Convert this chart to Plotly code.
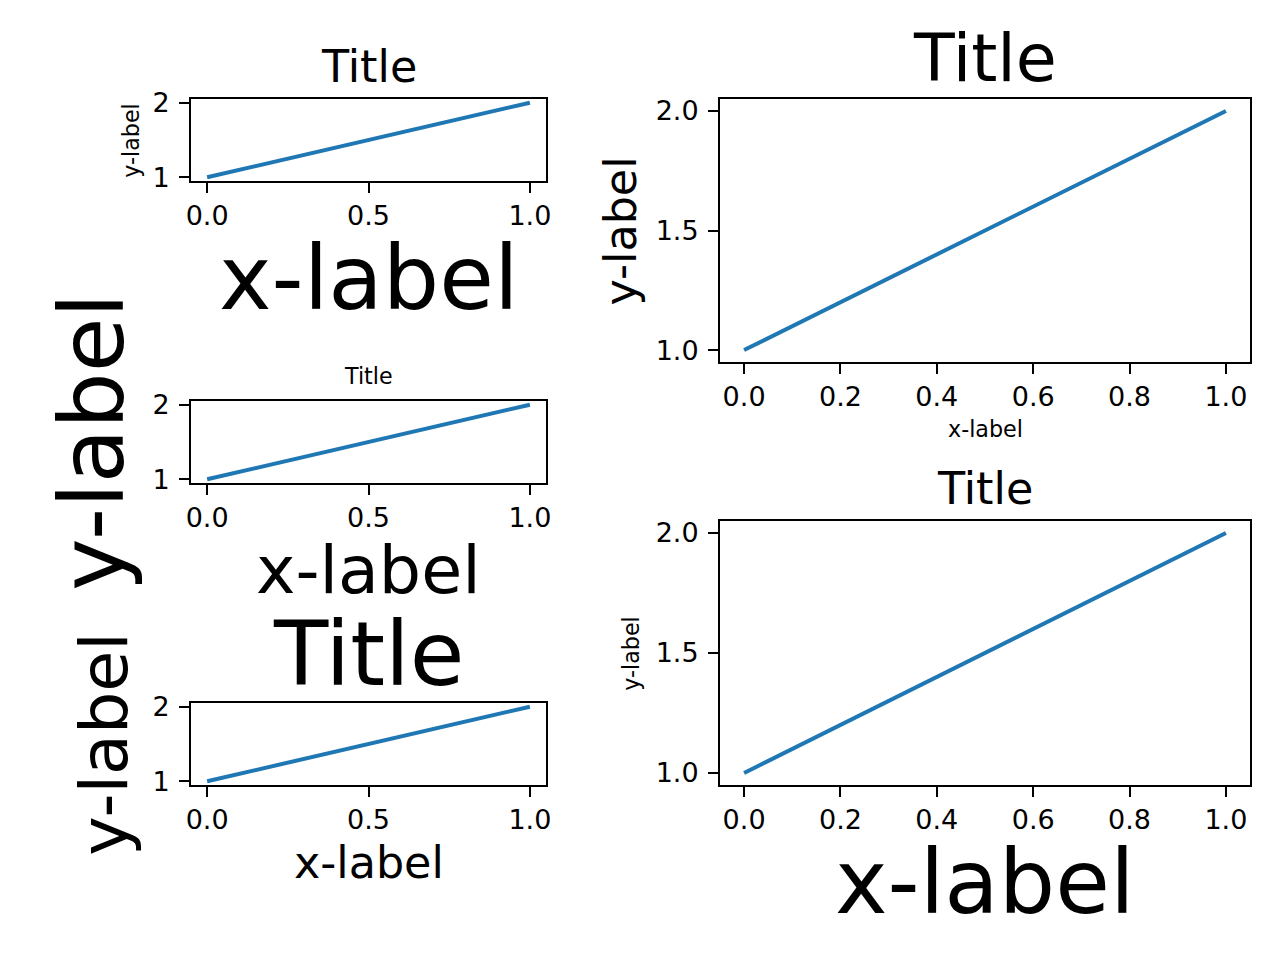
import plotly.graph_objects as go

# data shared by every panel
x_vals = [0, 1]
y_vals = [1, 2]
title_text = "Title"
xlabel_text = "x-label"
ylabel_text = "y-label"

# font sizes in points (title, x-label, y-label) for each panel
title_pts = [16, 8, 32, 24, 16]
xlabel_pts = [32, 24, 16, 8, 32]
ylabel_pts = [8, 32, 24, 16, 8]

OFF = 8                      # page body margin of the browser
W, H = 1280 - OFF, 960 - OFF
PT = 200 / 72                # px per point (6.4x4.8 in at 200 dpi)
FONT = "DejaVu Sans"
BLUE = "#1f77b4"
DESC = 0.236                 # DejaVu descent / em

# axes boxes in pixels of the full 1280x960 picture: left, right, top, bottom
boxes = [
    (191, 546, 99, 181),
    (191, 546, 401, 483),
    (191, 546, 703, 785),
    (720, 1250, 99, 362),
    (720, 1250, 521, 785),
]
x_dticks = [0.5, 0.5, 0.5, 0.2, 0.2]
y_dticks = [1, 1, 1, 0.5, 0.5]
y_formats = ["d", "d", "d", ".1f", ".1f"]
# y-label baseline, px left of the axes
ylabel_gap = [51.5, 67, 63, 83, 80.5]

fig = go.Figure()
layout = dict(
    template="none",
    width=W, height=H,
    margin=dict(l=0, r=0, t=0, b=0, autoexpand=False),
    paper_bgcolor="white", plot_bgcolor="white",
    showlegend=False,
    font=dict(family=FONT, color="black"),
)
annotations = []

for i, (l, r, t, b) in enumerate(boxes):
    n = "" if i == 0 else str(i + 1)
    xa, ya = "x" + n, "y" + n
    fig.add_trace(go.Scatter(x=x_vals, y=y_vals, mode="lines",
                             line=dict(color=BLUE, width=4),
                             xaxis=xa, yaxis=ya, hoverinfo="skip"))
    common = dict(showgrid=False, zeroline=False, showline=True, mirror=True,
                  automargin=False,
                  linecolor="black", linewidth=2, ticks="outside", ticklen=10,
                  tickwidth=2, tickcolor="black",
                  tickfont=dict(family=FONT, size=27, color="black"))
    layout["xaxis" + n] = dict(
        common, domain=[(l - OFF) / W, (r - OFF) / W], anchor=ya,
        range=[-0.05, 1.05], tick0=0, dtick=x_dticks[i], tickformat=".1f")
    layout["yaxis" + n] = dict(
        common, domain=[1 - (b - OFF) / H, 1 - (t - OFF) / H], anchor=xa,
        range=[0.95, 2.05], tick0=1, dtick=y_dticks[i],
        tickformat=y_formats[i], ticklabelstandoff=4)

    # title: baseline 6 pt above the axes
    fs = title_pts[i] * PT
    annotations.append(dict(
        text=title_text, xref=xa + " domain", yref=ya + " domain",
        x=0.5, y=1, xanchor="center", yanchor="bottom",
        yshift=16.7 - DESC * fs - 1, showarrow=False,
        font=dict(family=FONT, size=fs, color="black")))

    # x-label: baseline below the axes
    fs = xlabel_pts[i] * PT
    d = 58.5 + 0.79 * fs
    annotations.append(dict(
        text=xlabel_text, xref=xa + " domain", yref=ya + " domain",
        x=0.5, y=0, xanchor="center", yanchor="bottom",
        yshift=-d - DESC * fs - 1, showarrow=False,
        font=dict(family=FONT, size=fs, color="black")))

    # y-label, rotated
    fs = ylabel_pts[i] * PT
    annotations.append(dict(
        text=ylabel_text, xref=xa + " domain", yref=ya + " domain",
        x=0, y=0.5, xanchor="right", yanchor="middle", textangle=-90,
        xshift=-ylabel_gap[i] + DESC * fs + 1, showarrow=False,
        font=dict(family=FONT, size=fs, color="black")))

layout["annotations"] = annotations
fig.update_layout(**layout)
fig.write_html("out.html")
